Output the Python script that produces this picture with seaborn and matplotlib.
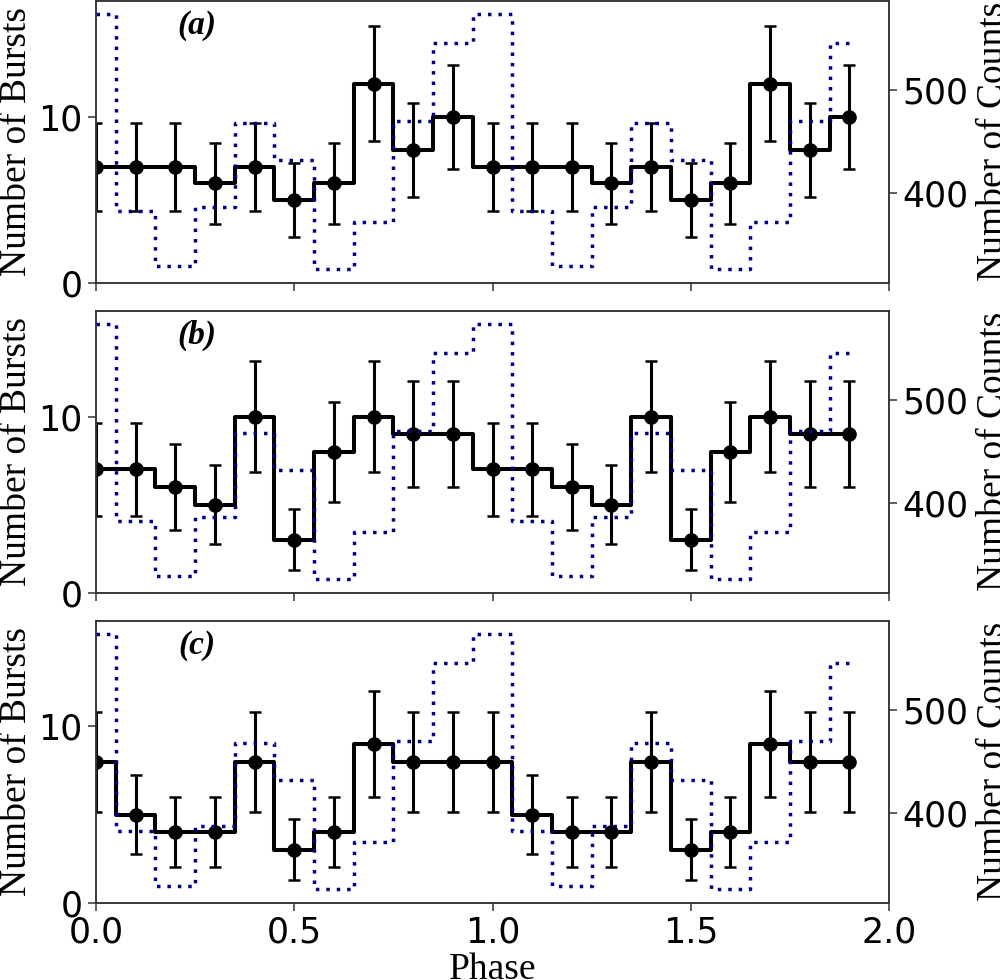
import numpy as np
import matplotlib
matplotlib.use('Agg')
import matplotlib.pyplot as plt
import seaborn as sns

# ── Data ─────────────────────────────────────────────────────────────────────
phase = [0.0, 0.1, 0.2, 0.3, 0.4, 0.5, 0.6, 0.7, 0.8, 0.9,
         1.0, 1.1, 1.2, 1.3, 1.4, 1.5, 1.6, 1.7, 1.8, 1.9]

bursts_a = [7, 7, 7, 6, 7, 5, 6, 12, 8, 10,
            7, 7, 7, 6, 7, 5, 6, 12, 8, 10]
bursts_b = [7, 7, 6, 5, 10, 3, 8, 10, 9, 9,
            7, 7, 6, 5, 10, 3, 8, 10, 9, 9]
bursts_c = [8, 5, 4, 4, 8, 3, 4, 9, 8, 8,
            8, 5, 4, 4, 8, 3, 4, 9, 8, 8]

# pulse-profile counts (right axis), same for every panel
counts = [574, 383, 329, 387, 468, 432, 326, 372, 470, 546,
          574, 383, 329, 387, 468, 432, 326, 372, 470, 546]

panel_labels = ['(a)', '(b)', '(c)']
burst_ymax = [17, 16, 16]

SERIF = 'Liberation Serif'

sns.set_style('ticks')
plt.rcParams['font.family'] = ['DejaVu Sans']
plt.rcParams['axes.edgecolor'] = '#333333'
plt.rcParams['axes.linewidth'] = 1.1
plt.rcParams['axes.labelcolor'] = 'black'
plt.rcParams['xtick.color'] = '#333333'
plt.rcParams['ytick.color'] = '#333333'
plt.rcParams['xtick.labelcolor'] = 'black'
plt.rcParams['ytick.labelcolor'] = 'black'
plt.rcParams['text.color'] = 'black'

fig, axes = plt.subplots(3, 1, figsize=(10, 9.8), dpi=100, sharex=True)
fig.subplots_adjust(left=0.096, right=0.889, top=0.999, bottom=0.079, hspace=0.1)

for ax, bursts, label, ymax in zip(axes, [bursts_a, bursts_b, bursts_c], panel_labels, burst_ymax):
    err = np.sqrt(bursts)   # Poisson errors

    sns.lineplot(x=phase, y=bursts, ax=ax, color='black', lw=2.9,
                 drawstyle='steps-mid', errorbar=None, legend=False)
    ax.errorbar(phase, bursts, yerr=err, fmt='o', color='black', ms=9.5,
                elinewidth=2.2, capsize=4.5, capthick=1.8)

    ax.set_xlim(0, 2)
    ax.set_ylim(0, ymax)
    ax.set_yticks([0, 10])
    ax.set_xticks([0, 0.5, 1.0, 1.5, 2.0])
    ax.set_ylabel('Number of Bursts', family=SERIF, fontsize=27, labelpad=3)
    ax.tick_params(labelsize=25, length=6, width=1.1)
    ax.text(0.127, 0.912, label, transform=ax.transAxes, ha='center', va='center',
            fontsize=24, fontweight='bold', fontstyle='italic', family=SERIF)

    ax2 = ax.twinx()
    sns.lineplot(x=phase, y=counts, ax=ax2, color='#00008b', lw=2.5, ls=(0, (1, 2.0)),
                 drawstyle='steps-mid', errorbar=None, legend=False)
    ax2.set_ylim(313, 587)
    ax2.set_yticks([400, 500])
    ax2.set_ylabel('Number of Counts', family=SERIF, fontsize=27, labelpad=6)
    ax2.tick_params(labelsize=25, length=6, width=1.1)

axes[-1].set_xlabel('Phase', family=SERIF, fontsize=27, labelpad=2)
for ax in axes[:-1]:
    ax.tick_params(labelbottom=False)

plt.savefig('out.png', dpi=100)
plt.close()
